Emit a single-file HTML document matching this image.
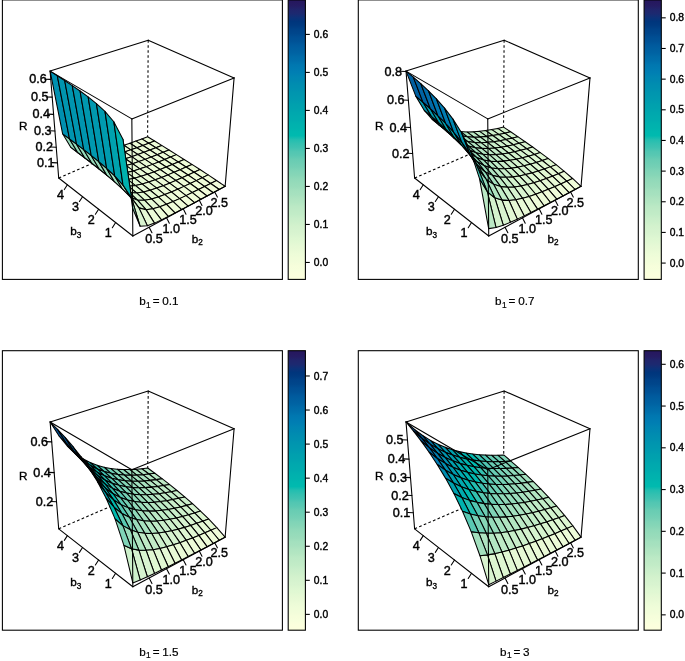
<!DOCTYPE html>
<html><head><meta charset="utf-8"><title>R surfaces</title>
<style>html,body{margin:0;padding:0;background:#fff}svg{display:block}</style></head>
<body><svg width="685" height="661" viewBox="0 0 685 661">
<defs><linearGradient id="cb" x1="0" y1="1" x2="0" y2="0"><stop offset="0.00704" stop-color="#FCFFDD"/><stop offset="0.02113" stop-color="#FBFFDD"/><stop offset="0.03521" stop-color="#F7FFDC"/><stop offset="0.04930" stop-color="#F6FEDB"/><stop offset="0.06338" stop-color="#F2FDDA"/><stop offset="0.07746" stop-color="#F0FDD9"/><stop offset="0.09155" stop-color="#EDFCD8"/><stop offset="0.10563" stop-color="#E9FAD6"/><stop offset="0.11972" stop-color="#E6F9D5"/><stop offset="0.13380" stop-color="#E1F8D3"/><stop offset="0.14789" stop-color="#DEF7D2"/><stop offset="0.16197" stop-color="#D9F4D0"/><stop offset="0.17606" stop-color="#D6F3CF"/><stop offset="0.19014" stop-color="#D3F2CD"/><stop offset="0.20423" stop-color="#CDF0CB"/><stop offset="0.21831" stop-color="#C9EECA"/><stop offset="0.23239" stop-color="#C2ECC7"/><stop offset="0.24648" stop-color="#BFEAC6"/><stop offset="0.26056" stop-color="#BBE9C5"/><stop offset="0.27465" stop-color="#B3E6C2"/><stop offset="0.28873" stop-color="#AFE4C1"/><stop offset="0.30282" stop-color="#A7E1BF"/><stop offset="0.31690" stop-color="#A3E0BE"/><stop offset="0.33099" stop-color="#9ADCBB"/><stop offset="0.34507" stop-color="#95DBBA"/><stop offset="0.35915" stop-color="#90D9B9"/><stop offset="0.37324" stop-color="#86D6B7"/><stop offset="0.38732" stop-color="#80D4B7"/><stop offset="0.40141" stop-color="#75D0B5"/><stop offset="0.41549" stop-color="#6ECEB4"/><stop offset="0.42958" stop-color="#68CCB3"/><stop offset="0.44366" stop-color="#59C8B2"/><stop offset="0.45775" stop-color="#51C6B2"/><stop offset="0.47183" stop-color="#3FC2B1"/><stop offset="0.48592" stop-color="#33C0B0"/><stop offset="0.50000" stop-color="#23BEB0"/><stop offset="0.51408" stop-color="#00BAAF"/><stop offset="0.52817" stop-color="#00B8AF"/><stop offset="0.54225" stop-color="#00B3AE"/><stop offset="0.55634" stop-color="#00B1AE"/><stop offset="0.57042" stop-color="#00ACAE"/><stop offset="0.58451" stop-color="#00AAAE"/><stop offset="0.59859" stop-color="#00A7AE"/><stop offset="0.61268" stop-color="#00A2AE"/><stop offset="0.62676" stop-color="#00A0AE"/><stop offset="0.64085" stop-color="#009BAF"/><stop offset="0.65493" stop-color="#0098AF"/><stop offset="0.66901" stop-color="#0095AF"/><stop offset="0.68310" stop-color="#0090B0"/><stop offset="0.69718" stop-color="#008DB0"/><stop offset="0.71127" stop-color="#0088B1"/><stop offset="0.72535" stop-color="#0085B2"/><stop offset="0.73944" stop-color="#007FB3"/><stop offset="0.75352" stop-color="#007BB2"/><stop offset="0.76761" stop-color="#0077B0"/><stop offset="0.78169" stop-color="#006FAB"/><stop offset="0.79577" stop-color="#006BA8"/><stop offset="0.80986" stop-color="#0063A3"/><stop offset="0.82394" stop-color="#005FA0"/><stop offset="0.83803" stop-color="#005A9D"/><stop offset="0.85211" stop-color="#005296"/><stop offset="0.86620" stop-color="#004E93"/><stop offset="0.88028" stop-color="#00468B"/><stop offset="0.89437" stop-color="#004288"/><stop offset="0.90845" stop-color="#003A80"/><stop offset="0.92254" stop-color="#00357C"/><stop offset="0.93662" stop-color="#0D3178"/><stop offset="0.95070" stop-color="#1C2970"/><stop offset="0.96479" stop-color="#20256C"/><stop offset="0.97887" stop-color="#251C63"/><stop offset="0.99296" stop-color="#26185F"/></linearGradient></defs>
<rect width="685" height="661" fill="#fff"/>
<g transform="translate(0,0)">
<g stroke="#000" stroke-width="1.08" stroke-dasharray="2.7,2.3" fill="none">
<line x1="58.70" y1="178.03" x2="147.59" y2="139.55" />
<line x1="225.14" y1="186.35" x2="147.59" y2="139.55" />
<line x1="148.20" y1="40.15" x2="147.59" y2="139.55" />
</g>
<g stroke="#000" stroke-width="1.05" stroke-linejoin="round">
<polygon points="148.77,143.27 154.58,141.01 147.61,136.71 141.81,138.90" fill="#EDFCD8"/>
<polygon points="142.86,145.50 148.77,143.27 141.81,138.90 135.92,141.08" fill="#EDFCD8"/>
<polygon points="155.88,147.75 161.72,145.42 154.58,141.01 148.77,143.27" fill="#EDFCD8"/>
<polygon points="136.87,147.70 142.86,145.50 135.92,141.08 129.95,143.21" fill="#EDFCD8"/>
<polygon points="149.96,150.05 155.88,147.75 148.77,143.27 142.86,145.50" fill="#EDFCD8"/>
<polygon points="130.80,149.85 136.87,147.70 129.95,143.21 123.89,145.29" fill="#E9FAD6"/>
<polygon points="163.17,152.35 169.01,149.96 161.72,145.42 155.88,147.75" fill="#EDFCD8"/>
<polygon points="143.96,152.32 149.96,150.05 142.86,145.50 136.87,147.70" fill="#EDFCD8"/>
<polygon points="124.62,151.92 130.80,149.85 123.89,145.29 117.74,147.29" fill="#E9FAD6"/>
<polygon points="157.23,154.73 163.17,152.35 155.88,147.75 149.96,150.05" fill="#EDFCD8"/>
<polygon points="137.86,154.54 143.96,152.32 136.87,147.70 130.80,149.85" fill="#E9FAD6"/>
<polygon points="170.62,157.10 176.48,154.63 169.01,149.96 163.17,152.35" fill="#EDFCD8"/>
<polygon points="118.35,153.86 124.62,151.92 117.74,147.29 111.48,149.17" fill="#E9FAD6"/>
<polygon points="151.21,157.08 157.23,154.73 149.96,150.05 143.96,152.32" fill="#EDFCD8"/>
<polygon points="131.67,156.68 137.86,154.54 130.80,149.85 124.62,151.92" fill="#E9FAD6"/>
<polygon points="164.67,159.55 170.62,157.10 163.17,152.35 157.23,154.73" fill="#EDFCD8"/>
<polygon points="111.97,155.62 118.35,153.86 111.48,149.17 105.12,150.85" fill="#E6F9D5"/>
<polygon points="145.10,159.38 151.21,157.08 143.96,152.32 137.86,154.54" fill="#EDFCD8"/>
<polygon points="178.25,161.99 184.13,159.44 176.48,154.63 170.62,157.10" fill="#F0FDD9"/>
<polygon points="125.38,158.70 131.67,156.68 124.62,151.92 118.35,153.86" fill="#E9FAD6"/>
<polygon points="158.64,161.98 164.67,159.55 157.23,154.73 151.21,157.08" fill="#EDFCD8"/>
<polygon points="138.89,161.60 145.10,159.38 137.86,154.54 131.67,156.68" fill="#E9FAD6"/>
<polygon points="105.47,157.08 111.97,155.62 105.12,150.85 98.64,152.24" fill="#E1F8D3"/>
<polygon points="172.29,164.54 178.25,161.99 170.62,157.10 164.67,159.55" fill="#EDFCD8"/>
<polygon points="152.51,164.37 158.64,161.98 151.21,157.08 145.10,159.38" fill="#EDFCD8"/>
<polygon points="118.98,160.54 125.38,158.70 118.35,153.86 111.97,155.62" fill="#E6F9D5"/>
<polygon points="186.06,167.05 191.95,164.41 184.13,159.44 178.25,161.99" fill="#F0FDD9"/>
<polygon points="132.58,163.70 138.89,161.60 131.67,156.68 125.38,158.70" fill="#E9FAD6"/>
<polygon points="166.24,167.05 172.29,164.54 164.67,159.55 158.64,161.98" fill="#EDFCD8"/>
<polygon points="98.84,158.08 105.47,157.08 98.64,152.24 92.03,153.17" fill="#DEF7D2"/>
<polygon points="146.28,166.68 152.51,164.37 145.10,159.38 138.89,161.60" fill="#E9FAD6"/>
<polygon points="112.47,162.08 118.98,160.54 111.97,155.62 105.47,157.08" fill="#E1F8D3"/>
<polygon points="180.09,169.69 186.06,167.05 178.25,161.99 172.29,164.54" fill="#F0FDD9"/>
<polygon points="160.10,169.53 166.24,167.05 158.64,161.98 152.51,164.37" fill="#EDFCD8"/>
<polygon points="126.17,165.62 132.58,163.70 125.38,158.70 118.98,160.54" fill="#E6F9D5"/>
<polygon points="194.06,172.30 199.96,169.55 191.95,164.41 186.06,167.05" fill="#F0FDD9"/>
<polygon points="92.05,158.28 98.84,158.08 92.03,153.17 85.26,153.30" fill="#D9F4D0"/>
<polygon points="139.96,168.87 146.28,166.68 138.89,161.60 132.58,163.70" fill="#E9FAD6"/>
<polygon points="174.03,172.31 180.09,169.69 172.29,164.54 166.24,167.05" fill="#EDFCD8"/>
<polygon points="105.82,163.16 112.47,162.08 105.47,157.08 98.84,158.08" fill="#DEF7D2"/>
<polygon points="153.86,171.94 160.10,169.53 152.51,164.37 146.28,166.68" fill="#EDFCD8"/>
<polygon points="119.64,167.25 126.17,165.62 118.98,160.54 112.47,162.08" fill="#E1F8D3"/>
<polygon points="188.08,175.04 194.06,172.30 186.06,167.05 180.09,169.69" fill="#F0FDD9"/>
<polygon points="167.87,174.89 174.03,172.31 166.24,167.05 160.10,169.53" fill="#EDFCD8"/>
<polygon points="133.53,170.88 139.96,168.87 132.58,163.70 126.17,165.62" fill="#E6F9D5"/>
<polygon points="202.25,177.76 208.16,174.90 199.96,169.55 194.06,172.30" fill="#F0FDD9"/>
<polygon points="85.05,156.99 92.05,158.28 85.26,153.30 78.26,151.95" fill="#D3F2CD"/>
<polygon points="99.02,163.43 105.82,163.16 98.84,158.08 92.05,158.28" fill="#D9F4D0"/>
<polygon points="147.52,174.24 153.86,171.94 146.28,166.68 139.96,168.87" fill="#E9FAD6"/>
<polygon points="182.00,177.78 188.08,175.04 180.09,169.69 174.03,172.31" fill="#F0FDD9"/>
<polygon points="112.98,168.41 119.64,167.25 112.47,162.08 105.82,163.16" fill="#DEF7D2"/>
<polygon points="161.61,177.41 167.87,174.89 160.10,169.53 153.86,171.94" fill="#EDFCD8"/>
<polygon points="196.25,180.63 202.25,177.76 194.06,172.30 188.08,175.04" fill="#F0FDD9"/>
<polygon points="126.98,172.61 133.53,170.88 126.17,165.62 119.64,167.25" fill="#E6F9D5"/>
<polygon points="175.83,180.48 182.00,177.78 174.03,172.31 167.87,174.89" fill="#EDFCD8"/>
<polygon points="141.07,176.36 147.52,174.24 139.96,168.87 133.53,170.88" fill="#E9FAD6"/>
<polygon points="210.63,183.48 216.55,180.48 208.16,174.90 202.25,177.76" fill="#F2FDDA"/>
<polygon points="92.01,162.21 99.02,163.43 92.05,158.28 85.05,156.99" fill="#D3F2CD"/>
<polygon points="77.68,152.48 85.05,156.99 78.26,151.95 70.88,147.40" fill="#BFEAC6"/>
<polygon points="106.16,168.78 112.98,168.41 105.82,163.16 99.02,163.43" fill="#D9F4D0"/>
<polygon points="155.26,179.83 161.61,177.41 153.86,171.94 147.52,174.24" fill="#E9FAD6"/>
<polygon points="190.16,183.50 196.25,180.63 188.08,175.04 182.00,177.78" fill="#F0FDD9"/>
<polygon points="120.31,173.88 126.98,172.61 119.64,167.25 112.98,168.41" fill="#E1F8D3"/>
<polygon points="169.56,183.14 175.83,180.48 167.87,174.89 161.61,177.41" fill="#EDFCD8"/>
<polygon points="204.62,186.50 210.63,183.48 202.25,177.76 196.25,180.63" fill="#F0FDD9"/>
<polygon points="134.51,178.20 141.07,176.36 133.53,170.88 126.98,172.61" fill="#E6F9D5"/>
<polygon points="183.98,186.36 190.16,183.50 182.00,177.78 175.83,180.48" fill="#F0FDD9"/>
<polygon points="148.80,182.08 155.26,179.83 147.52,174.24 141.07,176.36" fill="#E9FAD6"/>
<polygon points="219.21,189.53 225.14,186.35 216.55,180.48 210.63,183.48" fill="#F2FDDA"/>
<polygon points="99.15,167.64 106.16,168.78 99.02,163.43 92.01,162.21" fill="#D3F2CD"/>
<polygon points="84.66,157.75 92.01,162.21 85.05,156.99 77.68,152.48" fill="#BFEAC6"/>
<polygon points="113.49,174.35 120.31,173.88 112.98,168.41 106.16,168.78" fill="#D9F4D0"/>
<polygon points="163.19,185.70 169.56,183.14 161.61,177.41 155.26,179.83" fill="#EDFCD8"/>
<polygon points="198.52,189.54 204.62,186.50 196.25,180.63 190.16,183.50" fill="#F0FDD9"/>
<polygon points="127.83,179.59 134.51,178.20 126.98,172.61 120.31,173.88" fill="#E1F8D3"/>
<polygon points="177.70,189.17 183.98,186.36 175.83,180.48 169.56,183.14" fill="#EDFCD8"/>
<polygon points="213.18,192.75 219.21,189.53 210.63,183.48 204.62,186.50" fill="#F2FDDA"/>
<polygon points="142.23,184.06 148.80,182.08 141.07,176.36 134.51,178.20" fill="#E6F9D5"/>
<polygon points="69.50,138.89 77.68,152.48 70.88,147.40 62.64,133.84" fill="#95DBBA"/>
<polygon points="192.32,192.59 198.52,189.54 190.16,183.50 183.98,186.36" fill="#F0FDD9"/>
<polygon points="156.72,188.11 163.19,185.70 155.26,179.83 148.80,182.08" fill="#E9FAD6"/>
<polygon points="106.48,173.31 113.49,174.35 106.16,168.78 99.15,167.64" fill="#D3F2CD"/>
<polygon points="91.82,163.25 99.15,167.64 92.01,162.21 84.66,157.75" fill="#BFEAC6"/>
<polygon points="121.00,180.18 127.83,179.59 120.31,173.88 113.49,174.35" fill="#DEF7D2"/>
<polygon points="171.32,191.92 177.70,189.17 169.56,183.14 163.19,185.70" fill="#EDFCD8"/>
<polygon points="207.06,196.02 213.18,192.75 204.62,186.50 198.52,189.54" fill="#F2FDDA"/>
<polygon points="135.54,185.60 142.23,184.06 134.51,178.20 127.83,179.59" fill="#E1F8D3"/>
<polygon points="186.03,195.63 192.32,192.59 183.98,186.36 177.70,189.17" fill="#F0FDD9"/>
<polygon points="150.14,190.26 156.72,188.11 148.80,182.08 142.23,184.06" fill="#E9FAD6"/>
<polygon points="76.54,144.16 84.66,157.75 77.68,152.48 69.50,138.89" fill="#95DBBA"/>
<polygon points="200.85,199.33 207.06,196.02 198.52,189.54 192.32,192.59" fill="#F2FDDA"/>
<polygon points="164.84,194.54 171.32,191.92 163.19,185.70 156.72,188.11" fill="#EDFCD8"/>
<polygon points="113.99,179.28 121.00,180.18 113.49,174.35 106.48,173.31" fill="#D6F3CF"/>
<polygon points="99.17,169.01 106.48,173.31 99.15,167.64 91.82,163.25" fill="#C2ECC7"/>
<polygon points="128.71,186.35 135.54,185.60 127.83,179.59 121.00,180.18" fill="#DEF7D2"/>
<polygon points="179.63,198.63 186.03,195.63 177.70,189.17 171.32,191.92" fill="#F0FDD9"/>
<polygon points="143.44,192.00 150.14,190.26 142.23,184.06 135.54,185.60" fill="#E6F9D5"/>
<polygon points="194.54,202.69 200.85,199.33 192.32,192.59 186.03,195.63" fill="#F2FDDA"/>
<polygon points="158.24,196.94 164.84,194.54 156.72,188.11 150.14,190.26" fill="#E9FAD6"/>
<polygon points="83.77,149.66 91.82,163.25 84.66,157.75 76.54,144.16" fill="#95DBBA"/>
<polygon points="173.14,201.55 179.63,198.63 171.32,191.92 164.84,194.54" fill="#EDFCD8"/>
<polygon points="121.71,185.63 128.71,186.35 121.00,180.18 113.99,179.28" fill="#D6F3CF"/>
<polygon points="106.71,175.11 113.99,179.28 106.48,173.31 99.17,169.01" fill="#C2ECC7"/>
<polygon points="188.12,206.09 194.54,202.69 186.03,195.63 179.63,198.63" fill="#F2FDDA"/>
<polygon points="136.61,192.98 143.44,192.00 135.54,185.60 128.71,186.35" fill="#E1F8D3"/>
<polygon points="151.54,198.96 158.24,196.94 150.14,190.26 143.44,192.00" fill="#E6F9D5"/>
<polygon points="166.53,204.33 173.14,201.55 164.84,194.54 158.24,196.94" fill="#EDFCD8"/>
<polygon points="91.19,155.46 99.17,169.01 91.82,163.25 83.77,149.66" fill="#95DBBA"/>
<polygon points="181.61,209.52 188.12,206.09 179.63,198.63 173.14,201.55" fill="#F0FDD9"/>
<polygon points="129.62,192.52 136.61,192.98 128.71,186.35 121.71,185.63" fill="#D9F4D0"/>
<polygon points="144.71,200.30 151.54,198.96 143.44,192.00 136.61,192.98" fill="#E1F8D3"/>
<polygon points="114.45,181.65 121.71,185.63 113.99,179.28 106.71,175.11" fill="#C9EECA"/>
<polygon points="57.29,75.70 69.50,138.89 62.64,133.84 50.12,71.11" fill="#0090B0"/>
<polygon points="159.82,206.83 166.53,204.33 158.24,196.94 151.54,198.96" fill="#E9FAD6"/>
<polygon points="174.98,212.98 181.61,209.52 173.14,201.55 166.53,204.33" fill="#F0FDD9"/>
<polygon points="98.82,161.64 106.71,175.11 99.17,169.01 91.19,155.46" fill="#9ADCBB"/>
<polygon points="137.73,200.28 144.71,200.30 136.61,192.98 129.62,192.52" fill="#D9F4D0"/>
<polygon points="152.99,208.79 159.82,206.83 151.54,198.96 144.71,200.30" fill="#E6F9D5"/>
<polygon points="122.40,188.85 129.62,192.52 121.71,185.63 114.45,181.65" fill="#C9EECA"/>
<polygon points="168.25,216.44 174.98,212.98 166.53,204.33 159.82,206.83" fill="#F0FDD9"/>
<polygon points="64.67,80.52 76.54,144.16 69.50,138.89 57.29,75.70" fill="#0095AF"/>
<polygon points="106.66,168.36 114.45,181.65 106.71,175.11 98.82,161.64" fill="#9ADCBB"/>
<polygon points="161.41,219.86 168.25,216.44 159.82,206.83 152.99,208.79" fill="#EDFCD8"/>
<polygon points="146.03,209.65 152.99,208.79 144.71,200.30 137.73,200.28" fill="#E1F8D3"/>
<polygon points="130.56,197.18 137.73,200.28 129.62,192.52 122.40,188.85" fill="#CDF0CB"/>
<polygon points="72.26,85.60 83.77,149.66 76.54,144.16 64.67,80.52" fill="#0095AF"/>
<polygon points="154.45,223.11 161.41,219.86 152.99,208.79 146.03,209.65" fill="#EDFCD8"/>
<polygon points="114.72,175.93 122.40,188.85 114.45,181.65 106.66,168.36" fill="#A3E0BE"/>
<polygon points="138.91,207.87 146.03,209.65 137.73,200.28 130.56,197.18" fill="#D6F3CF"/>
<polygon points="80.08,91.04 91.19,155.46 83.77,149.66 72.26,85.60" fill="#0095AF"/>
<polygon points="147.37,225.80 154.45,223.11 146.03,209.65 138.91,207.87" fill="#E6F9D5"/>
<polygon points="123.00,185.05 130.56,197.18 122.40,188.85 114.72,175.93" fill="#AFE4C1"/>
<polygon points="131.50,197.93 138.91,207.87 130.56,197.18 123.00,185.05" fill="#BBE9C5"/>
<polygon points="88.13,96.95 98.82,161.64 91.19,155.46 80.08,91.04" fill="#0098AF"/>
<polygon points="140.15,226.32 147.37,225.80 138.91,207.87 131.50,197.93" fill="#D9F4D0"/>
<polygon points="96.42,103.57 106.66,168.36 98.82,161.64 88.13,96.95" fill="#0098AF"/>
<polygon points="104.98,111.40 114.72,175.93 106.66,168.36 96.42,103.57" fill="#009BAF"/>
<polygon points="132.60,208.29 140.15,226.32 131.50,197.93 122.95,139.29" fill="#90D9B9"/>
<polygon points="113.81,121.72 123.00,185.05 114.72,175.93 104.98,111.40" fill="#00A2AE"/>
<polygon points="122.95,139.29 131.50,197.93 123.00,185.05 113.81,121.72" fill="#00B1AE"/>
</g>
<g stroke="#000" stroke-width="1.08" fill="none" stroke-linecap="round">
<line x1="132.83" y1="235.95" x2="225.14" y2="186.35" />
<line x1="132.83" y1="235.95" x2="58.70" y2="178.03" />
<line x1="132.83" y1="235.95" x2="131.84" y2="118.90" />
<line x1="225.14" y1="186.35" x2="234.09" y2="77.89" />
<line x1="58.70" y1="178.03" x2="50.12" y2="71.11" />
<line x1="131.84" y1="118.90" x2="234.09" y2="77.89" />
<line x1="131.84" y1="118.90" x2="50.12" y2="71.11" />
<line x1="148.20" y1="40.15" x2="234.09" y2="77.89" />
<line x1="148.20" y1="40.15" x2="50.12" y2="71.11" />
<line x1="149.13" y1="227.19" x2="151.95" y2="232.77" />
<line x1="166.54" y1="217.84" x2="169.32" y2="223.29" />
<line x1="183.24" y1="208.87" x2="185.98" y2="214.20" />
<line x1="199.28" y1="200.25" x2="201.99" y2="205.47" />
<line x1="214.70" y1="191.97" x2="217.37" y2="197.07" />
<line x1="115.65" y1="222.53" x2="112.33" y2="227.71" />
<line x1="98.61" y1="209.22" x2="95.38" y2="214.24" />
<line x1="82.55" y1="196.67" x2="79.41" y2="201.54" />
<line x1="67.39" y1="184.83" x2="64.33" y2="189.56" />
<line x1="57.48" y1="162.89" x2="51.97" y2="162.62" />
<line x1="56.22" y1="147.19" x2="50.63" y2="146.94" />
<line x1="54.92" y1="131.02" x2="49.25" y2="130.77" />
<line x1="53.59" y1="114.35" x2="47.82" y2="114.11" />
<line x1="52.21" y1="97.15" x2="46.35" y2="96.92" />
<line x1="50.78" y1="79.40" x2="44.84" y2="79.18" />
</g>
<g font-family="Liberation Sans, Arial, Helvetica, sans-serif" font-size="12.6" fill="#000" text-anchor="middle" stroke="#000" stroke-width="0.42">
<text x="153.98" y="242.87">0.5</text>
<text x="171.31" y="233.27">1.0</text>
<text x="187.93" y="224.05">1.5</text>
<text x="203.90" y="215.21">2.0</text>
<text x="219.25" y="206.70">2.5</text>
<text x="108.20" y="237.40">1</text>
<text x="91.34" y="223.77">2</text>
<text x="75.46" y="210.92">3</text>
<text x="60.46" y="198.80">4</text>
<text x="45.66" y="166.87">0.1</text>
<text x="44.24" y="151.19">0.2</text>
<text x="42.78" y="135.03">0.3</text>
<text x="41.26" y="118.37">0.4</text>
<text x="39.71" y="101.19">0.5</text>
<text x="38.10" y="83.46">0.6</text>
</g>
<g font-family="Liberation Sans, Arial, Helvetica, sans-serif" font-size="11.7" fill="#000" text-anchor="middle" stroke="#000" stroke-width="0.35">
<text x="197.21" y="242.77">b<tspan font-size="8.2" dy="2.3">2</tspan></text>
<text x="75.74" y="235.42">b<tspan font-size="8.2" dy="2.3">3</tspan></text>
<text x="23.31" y="129.66">R</text>
</g>
<rect x="2.4" y="-0.1" width="280" height="279.5" fill="none" stroke="#000" stroke-width="1.08"/>
<rect x="288.2" y="-0.1" width="17.20" height="279.5" fill="url(#cb)"/>
<rect x="288.2" y="-0.1" width="17.20" height="279.5" fill="none" stroke="#000" stroke-width="1.08"/>
<g stroke="#000" stroke-width="1.08">
<line x1="305.4" y1="262.45" x2="309.79999999999995" y2="262.45"/>
<line x1="305.4" y1="224.44" x2="309.79999999999995" y2="224.44"/>
<line x1="305.4" y1="186.43" x2="309.79999999999995" y2="186.43"/>
<line x1="305.4" y1="148.43" x2="309.79999999999995" y2="148.43"/>
<line x1="305.4" y1="110.42" x2="309.79999999999995" y2="110.42"/>
<line x1="305.4" y1="72.41" x2="309.79999999999995" y2="72.41"/>
<line x1="305.4" y1="34.40" x2="309.79999999999995" y2="34.40"/>
</g>
<g font-family="Liberation Sans, Arial, Helvetica, sans-serif" font-size="10.3" fill="#000" stroke="#000" stroke-width="0.4">
<text x="313.79999999999995" y="266.04">0.0</text>
<text x="313.79999999999995" y="228.03">0.1</text>
<text x="313.79999999999995" y="190.02">0.2</text>
<text x="313.79999999999995" y="152.01">0.3</text>
<text x="313.79999999999995" y="114.00">0.4</text>
<text x="313.79999999999995" y="76.00">0.5</text>
<text x="313.79999999999995" y="37.99">0.6</text>
</g>
<g font-family="Liberation Sans, Arial, Helvetica, sans-serif" font-size="11.7" fill="#000" stroke="#000" stroke-width="0.2">
<text x="139.22" y="305.4">b</text>
<text x="146.12" y="307.5" font-size="8.4">1</text>
<text x="152.72" y="305.4">=</text>
<text x="162.32" y="305.4">0.1</text>
</g>
</g>
<g transform="translate(355.9,0)">
<g stroke="#000" stroke-width="1.08" stroke-dasharray="2.7,2.3" fill="none">
<line x1="58.70" y1="178.03" x2="147.59" y2="139.55" />
<line x1="225.14" y1="186.35" x2="147.59" y2="139.55" />
<line x1="148.20" y1="40.15" x2="147.59" y2="139.55" />
</g>
<g stroke="#000" stroke-width="1.05" stroke-linejoin="round">
<polygon points="148.84,133.17 154.70,131.76 147.67,127.07 141.82,128.39" fill="#D6F3CF"/>
<polygon points="142.88,134.44 148.84,133.17 141.82,128.39 135.87,129.57" fill="#D3F2CD"/>
<polygon points="156.02,138.14 161.89,136.64 154.70,131.76 148.84,133.17" fill="#D6F3CF"/>
<polygon points="136.83,135.53 142.88,134.44 135.87,129.57 129.82,130.57" fill="#CDF0CB"/>
<polygon points="150.05,139.51 156.02,138.14 148.84,133.17 142.88,134.44" fill="#D3F2CD"/>
<polygon points="163.36,143.33 169.23,141.72 161.89,136.64 156.02,138.14" fill="#D6F3CF"/>
<polygon points="130.66,136.39 136.83,135.53 129.82,130.57 123.67,131.34" fill="#C9EECA"/>
<polygon points="143.99,140.70 150.05,139.51 142.88,134.44 136.83,135.53" fill="#CDF0CB"/>
<polygon points="157.39,144.80 163.36,143.33 156.02,138.14 150.05,139.51" fill="#D6F3CF"/>
<polygon points="170.86,148.75 176.74,147.02 169.23,141.72 163.36,143.33" fill="#D9F4D0"/>
<polygon points="124.39,136.97 130.66,136.39 123.67,131.34 117.40,131.82" fill="#C2ECC7"/>
<polygon points="137.82,141.67 143.99,140.70 136.83,135.53 130.66,136.39" fill="#C9EECA"/>
<polygon points="151.32,146.11 157.39,144.80 150.05,139.51 143.99,140.70" fill="#D3F2CD"/>
<polygon points="164.88,150.35 170.86,148.75 163.36,143.33 157.39,144.80" fill="#D6F3CF"/>
<polygon points="117.99,137.15 124.39,136.97 117.40,131.82 111.00,131.90" fill="#BBE9C5"/>
<polygon points="178.52,154.45 184.41,152.59 176.74,147.02 170.86,148.75" fill="#DEF7D2"/>
<polygon points="131.54,142.35 137.82,141.67 130.66,136.39 124.39,136.97" fill="#C2ECC7"/>
<polygon points="145.14,147.20 151.32,146.11 143.99,140.70 137.82,141.67" fill="#CDF0CB"/>
<polygon points="158.81,151.79 164.88,150.35 157.39,144.80 151.32,146.11" fill="#D3F2CD"/>
<polygon points="172.54,156.19 178.52,154.45 170.86,148.75 164.88,150.35" fill="#D9F4D0"/>
<polygon points="111.45,136.83 117.99,137.15 111.00,131.90 104.46,131.48" fill="#AFE4C1"/>
<polygon points="125.14,142.66 131.54,142.35 124.39,136.97 117.99,137.15" fill="#BFEAC6"/>
<polygon points="186.35,160.47 192.24,158.45 184.41,152.59 178.52,154.45" fill="#DEF7D2"/>
<polygon points="138.86,148.01 145.14,147.20 137.82,141.67 131.54,142.35" fill="#C9EECA"/>
<polygon points="152.63,153.02 158.81,151.79 151.32,146.11 145.14,147.20" fill="#D3F2CD"/>
<polygon points="166.46,157.79 172.54,156.19 164.88,150.35 158.81,151.79" fill="#D6F3CF"/>
<polygon points="104.75,135.82 111.45,136.83 104.46,131.48 97.76,130.36" fill="#A3E0BE"/>
<polygon points="180.37,162.39 186.35,160.47 178.52,154.45 172.54,156.19" fill="#DEF7D2"/>
<polygon points="118.60,142.46 125.14,142.66 117.99,137.15 111.45,136.83" fill="#B3E6C2"/>
<polygon points="132.46,148.45 138.86,148.01 131.54,142.35 125.14,142.66" fill="#BFEAC6"/>
<polygon points="194.34,166.87 200.24,164.66 192.24,158.45 186.35,160.47" fill="#E1F8D3"/>
<polygon points="146.35,153.98 152.63,153.02 145.14,147.20 138.86,148.01" fill="#C9EECA"/>
<polygon points="160.29,159.19 166.46,157.79 158.81,151.79 152.63,153.02" fill="#D3F2CD"/>
<polygon points="174.28,164.17 180.37,162.39 172.54,156.19 166.46,157.79" fill="#D9F4D0"/>
<polygon points="188.35,169.00 194.34,166.87 186.35,160.47 180.37,162.39" fill="#E1F8D3"/>
<polygon points="97.87,133.84 104.75,135.82 97.76,130.36 90.87,128.27" fill="#95DBBA"/>
<polygon points="111.91,141.57 118.60,142.46 111.45,136.83 104.75,135.82" fill="#A7E1BF"/>
<polygon points="125.92,148.39 132.46,148.45 125.14,142.66 118.60,142.46" fill="#BBE9C5"/>
<polygon points="139.94,154.59 146.35,153.98 138.86,148.01 132.46,148.45" fill="#C2ECC7"/>
<polygon points="202.49,173.75 208.39,171.30 200.24,164.66 194.34,166.87" fill="#E6F9D5"/>
<polygon points="154.00,160.33 160.29,159.19 152.63,153.02 146.35,153.98" fill="#CDF0CB"/>
<polygon points="168.10,165.78 174.28,164.17 166.46,157.79 160.29,159.19" fill="#D6F3CF"/>
<polygon points="182.27,171.02 188.35,169.00 180.37,162.39 174.28,164.17" fill="#DEF7D2"/>
<polygon points="196.50,176.14 202.49,173.75 194.34,166.87 188.35,169.00" fill="#E6F9D5"/>
<polygon points="119.23,147.66 125.92,148.39 118.60,142.46 111.91,141.57" fill="#AFE4C1"/>
<polygon points="105.03,139.72 111.91,141.57 104.75,135.82 97.87,133.84" fill="#95DBBA"/>
<polygon points="133.41,154.70 139.94,154.59 132.46,148.45 125.92,148.39" fill="#BBE9C5"/>
<polygon points="90.75,130.49 97.87,133.84 90.87,128.27 83.74,124.81" fill="#75D0B5"/>
<polygon points="210.79,181.23 216.70,178.48 208.39,171.30 202.49,173.75" fill="#EDFCD8"/>
<polygon points="147.60,161.13 154.00,160.33 146.35,153.98 139.94,154.59" fill="#C9EECA"/>
<polygon points="161.82,167.14 168.10,165.78 160.29,159.19 154.00,160.33" fill="#D3F2CD"/>
<polygon points="176.09,172.88 182.27,171.02 174.28,164.17 168.10,165.78" fill="#D9F4D0"/>
<polygon points="190.41,178.45 196.50,176.14 188.35,169.00 182.27,171.02" fill="#E1F8D3"/>
<polygon points="204.78,183.96 210.79,181.23 202.49,173.75 196.50,176.14" fill="#E9FAD6"/>
<polygon points="126.73,154.16 133.41,154.70 125.92,148.39 119.23,147.66" fill="#B3E6C2"/>
<polygon points="112.37,145.98 119.23,147.66 111.91,141.57 105.03,139.72" fill="#9ADCBB"/>
<polygon points="219.21,189.50 225.14,186.35 216.70,178.48 210.79,181.23" fill="#F0FDD9"/>
<polygon points="141.07,161.47 147.60,161.13 139.94,154.59 133.41,154.70" fill="#BFEAC6"/>
<polygon points="97.93,136.51 105.03,139.72 97.87,133.84 90.75,130.49" fill="#80D4B7"/>
<polygon points="155.42,168.19 161.82,167.14 154.00,160.33 147.60,161.13" fill="#CDF0CB"/>
<polygon points="169.80,174.53 176.09,172.88 168.10,165.78 161.82,167.14" fill="#D6F3CF"/>
<polygon points="83.34,125.06 90.75,130.49 83.74,124.81 76.31,119.28" fill="#51C6B2"/>
<polygon points="184.22,180.64 190.41,178.45 182.27,171.02 176.09,172.88" fill="#E1F8D3"/>
<polygon points="198.68,186.66 204.78,183.96 196.50,176.14 190.41,178.45" fill="#E9FAD6"/>
<polygon points="213.19,192.69 219.21,189.50 210.79,181.23 204.78,183.96" fill="#F0FDD9"/>
<polygon points="134.40,161.16 141.07,161.47 133.41,154.70 126.73,154.16" fill="#BBE9C5"/>
<polygon points="119.88,152.68 126.73,154.16 119.23,147.66 112.37,145.98" fill="#A3E0BE"/>
<polygon points="148.90,168.80 155.42,168.19 147.60,161.13 141.07,161.47" fill="#C9EECA"/>
<polygon points="163.41,175.90 169.80,174.53 161.82,167.14 155.42,168.19" fill="#D3F2CD"/>
<polygon points="105.29,142.93 112.37,145.98 105.03,139.72 97.93,136.51" fill="#86D6B7"/>
<polygon points="177.93,182.67 184.22,180.64 176.09,172.88 169.80,174.53" fill="#DEF7D2"/>
<polygon points="192.49,189.29 198.68,186.66 190.41,178.45 184.22,180.64" fill="#E6F9D5"/>
<polygon points="90.55,131.22 97.93,136.51 90.75,130.49 83.34,125.06" fill="#59C8B2"/>
<polygon points="207.07,195.92 213.19,192.69 204.78,183.96 198.68,186.66" fill="#F0FDD9"/>
<polygon points="75.51,116.37 83.34,125.06 76.31,119.28 68.44,110.48" fill="#00B3AE"/>
<polygon points="142.25,168.80 148.90,168.80 141.07,161.47 134.40,161.16" fill="#BFEAC6"/>
<polygon points="156.89,176.87 163.41,175.90 155.42,168.19 148.90,168.80" fill="#CDF0CB"/>
<polygon points="127.58,159.95 134.40,161.16 126.73,154.16 119.88,152.68" fill="#A7E1BF"/>
<polygon points="171.54,184.47 177.93,182.67 169.80,174.53 163.41,175.90" fill="#D9F4D0"/>
<polygon points="186.20,191.83 192.49,189.29 184.22,180.64 177.93,182.67" fill="#E6F9D5"/>
<polygon points="112.84,149.86 119.88,152.68 112.37,145.98 105.29,142.93" fill="#90D9B9"/>
<polygon points="200.86,199.18 207.07,195.92 198.68,186.66 192.49,189.29" fill="#F0FDD9"/>
<polygon points="97.95,137.83 105.29,142.93 97.93,136.51 90.55,131.22" fill="#68CCB3"/>
<polygon points="165.04,185.94 171.54,184.47 163.41,175.90 156.89,176.87" fill="#D6F3CF"/>
<polygon points="179.80,194.24 186.20,191.83 177.93,182.67 171.54,184.47" fill="#E1F8D3"/>
<polygon points="194.55,202.48 200.86,199.18 192.49,189.29 186.20,191.83" fill="#F0FDD9"/>
<polygon points="82.77,122.67 90.55,131.22 83.34,125.06 75.51,116.37" fill="#00B8AF"/>
<polygon points="150.26,177.29 156.89,176.87 148.90,168.80 142.25,168.80" fill="#C9EECA"/>
<polygon points="135.44,167.94 142.25,168.80 134.40,161.16 127.58,159.95" fill="#B3E6C2"/>
<polygon points="120.56,157.42 127.58,159.95 119.88,152.68 112.84,149.86" fill="#95DBBA"/>
<polygon points="105.53,145.00 112.84,149.86 105.29,142.93 97.95,137.83" fill="#6ECEB4"/>
<polygon points="188.14,205.81 194.55,202.48 186.20,191.83 179.80,194.24" fill="#EDFCD8"/>
<polygon points="173.30,196.45 179.80,194.24 171.54,184.47 165.04,185.94" fill="#DEF7D2"/>
<polygon points="67.03,102.09 75.51,116.37 68.44,110.48 59.88,96.12" fill="#0098AF"/>
<polygon points="158.41,186.95 165.04,185.94 156.89,176.87 150.26,177.29" fill="#D3F2CD"/>
<polygon points="143.48,176.92 150.26,177.29 142.25,168.80 135.44,167.94" fill="#BBE9C5"/>
<polygon points="90.22,129.47 97.95,137.83 90.55,131.22 82.77,122.67" fill="#00BAAF"/>
<polygon points="128.46,165.82 135.44,167.94 127.58,159.95 120.56,157.42" fill="#A3E0BE"/>
<polygon points="181.62,209.16 188.14,205.81 179.80,194.24 173.30,196.45" fill="#EDFCD8"/>
<polygon points="113.30,152.90 120.56,157.42 112.84,149.86 105.53,145.00" fill="#75D0B5"/>
<polygon points="166.68,198.35 173.30,196.45 165.04,185.94 158.41,186.95" fill="#D9F4D0"/>
<polygon points="151.66,187.29 158.41,186.95 150.26,177.29 143.48,176.92" fill="#C9EECA"/>
<polygon points="74.37,108.51 82.77,122.67 75.51,116.37 67.03,102.09" fill="#009BAF"/>
<polygon points="97.87,136.91 105.53,145.00 97.95,137.83 90.22,129.47" fill="#23BEB0"/>
<polygon points="136.53,175.37 143.48,176.92 135.44,167.94 128.46,165.82" fill="#AFE4C1"/>
<polygon points="175.00,212.52 181.62,209.16 173.30,196.45 166.68,198.35" fill="#E9FAD6"/>
<polygon points="121.25,161.77 128.46,165.82 120.56,157.42 113.30,152.90" fill="#86D6B7"/>
<polygon points="159.95,199.80 166.68,198.35 158.41,186.95 151.66,187.29" fill="#D6F3CF"/>
<polygon points="144.76,186.61 151.66,187.29 143.48,176.92 136.53,175.37" fill="#BFEAC6"/>
<polygon points="81.91,115.51 90.22,129.47 82.77,122.67 74.37,108.51" fill="#00A0AE"/>
<polygon points="105.71,145.19 113.30,152.90 105.53,145.00 97.87,136.91" fill="#3FC2B1"/>
<polygon points="168.27,215.86 175.00,212.52 166.68,198.35 159.95,199.80" fill="#E9FAD6"/>
<polygon points="57.40,77.10 67.03,102.09 59.88,96.12 50.12,71.11" fill="#005FA0"/>
<polygon points="129.39,172.02 136.53,175.37 128.46,165.82 121.25,161.77" fill="#95DBBA"/>
<polygon points="153.09,200.53 159.95,199.80 151.66,187.29 144.76,186.61" fill="#CDF0CB"/>
<polygon points="89.66,123.24 97.87,136.91 90.22,129.47 81.91,115.51" fill="#00A2AE"/>
<polygon points="113.75,154.62 121.25,161.77 113.30,152.90 105.71,145.19" fill="#59C8B2"/>
<polygon points="161.42,219.15 168.27,215.86 159.95,199.80 153.09,200.53" fill="#E6F9D5"/>
<polygon points="137.68,184.35 144.76,186.61 136.53,175.37 129.39,172.02" fill="#A7E1BF"/>
<polygon points="64.88,83.61 74.37,108.51 67.03,102.09 57.40,77.10" fill="#0063A3"/>
<polygon points="146.07,200.12 153.09,200.53 144.76,186.61 137.68,184.35" fill="#C2ECC7"/>
<polygon points="121.97,165.73 129.39,172.02 121.25,161.77 113.75,154.62" fill="#6ECEB4"/>
<polygon points="154.46,222.31 161.42,219.15 153.09,200.53 146.07,200.12" fill="#E1F8D3"/>
<polygon points="97.62,131.96 105.71,145.19 97.87,136.91 89.66,123.24" fill="#00AAAE"/>
<polygon points="72.58,90.78 81.91,115.51 74.37,108.51 64.88,83.61" fill="#006BA8"/>
<polygon points="130.37,179.46 137.68,184.35 129.39,172.02 121.97,165.73" fill="#90D9B9"/>
<polygon points="105.79,142.08 113.75,154.62 105.71,145.19 97.62,131.96" fill="#00B1AE"/>
<polygon points="147.37,225.21 154.46,222.31 146.07,200.12 138.88,197.76" fill="#D9F4D0"/>
<polygon points="138.88,197.76 146.07,200.12 137.68,184.35 130.37,179.46" fill="#AFE4C1"/>
<polygon points="80.50,98.83 89.66,123.24 81.91,115.51 72.58,90.78" fill="#0077B0"/>
<polygon points="114.17,154.29 121.97,165.73 113.75,154.62 105.79,142.08" fill="#00BAAF"/>
<polygon points="140.15,227.56 147.37,225.21 138.88,197.76 131.45,191.83" fill="#D3F2CD"/>
<polygon points="122.74,169.92 130.37,179.46 121.97,165.73 114.17,154.29" fill="#59C8B2"/>
<polygon points="88.66,108.08 97.62,131.96 89.66,123.24 80.50,98.83" fill="#007BB2"/>
<polygon points="131.45,191.83 138.88,197.76 130.37,179.46 122.74,169.92" fill="#90D9B9"/>
<polygon points="97.05,119.07 105.79,142.08 97.62,131.96 88.66,108.08" fill="#0088B1"/>
<polygon points="132.77,228.64 140.15,227.56 131.45,191.83 123.61,178.58" fill="#BBE9C5"/>
<polygon points="105.68,132.77 114.17,154.29 105.79,142.08 97.05,119.07" fill="#0095AF"/>
<polygon points="114.55,151.11 122.74,169.92 114.17,154.29 105.68,132.77" fill="#00A7AE"/>
<polygon points="123.61,178.58 131.45,191.83 122.74,169.92 114.55,151.11" fill="#3FC2B1"/>
</g>
<g stroke="#000" stroke-width="1.08" fill="none" stroke-linecap="round">
<line x1="132.83" y1="235.95" x2="225.14" y2="186.35" />
<line x1="132.83" y1="235.95" x2="58.70" y2="178.03" />
<line x1="132.83" y1="235.95" x2="131.84" y2="118.90" />
<line x1="225.14" y1="186.35" x2="234.09" y2="77.89" />
<line x1="58.70" y1="178.03" x2="50.12" y2="71.11" />
<line x1="131.84" y1="118.90" x2="234.09" y2="77.89" />
<line x1="131.84" y1="118.90" x2="50.12" y2="71.11" />
<line x1="148.20" y1="40.15" x2="234.09" y2="77.89" />
<line x1="148.20" y1="40.15" x2="50.12" y2="71.11" />
<line x1="149.13" y1="227.19" x2="151.95" y2="232.77" />
<line x1="166.54" y1="217.84" x2="169.32" y2="223.29" />
<line x1="183.24" y1="208.87" x2="185.98" y2="214.20" />
<line x1="199.28" y1="200.25" x2="201.99" y2="205.47" />
<line x1="214.70" y1="191.97" x2="217.37" y2="197.07" />
<line x1="115.65" y1="222.53" x2="112.33" y2="227.71" />
<line x1="98.61" y1="209.22" x2="95.38" y2="214.24" />
<line x1="82.55" y1="196.67" x2="79.41" y2="201.54" />
<line x1="67.39" y1="184.83" x2="64.33" y2="189.56" />
<line x1="56.73" y1="153.58" x2="51.17" y2="153.32" />
<line x1="54.65" y1="127.57" x2="48.95" y2="127.32" />
<line x1="52.46" y1="100.24" x2="46.62" y2="100.00" />
<line x1="50.15" y1="71.48" x2="44.16" y2="71.26" />
</g>
<g font-family="Liberation Sans, Arial, Helvetica, sans-serif" font-size="12.6" fill="#000" text-anchor="middle" stroke="#000" stroke-width="0.42">
<text x="153.98" y="242.87">0.5</text>
<text x="171.31" y="233.27">1.0</text>
<text x="187.93" y="224.05">1.5</text>
<text x="203.90" y="215.21">2.0</text>
<text x="219.25" y="206.70">2.5</text>
<text x="108.20" y="237.40">1</text>
<text x="91.34" y="223.77">2</text>
<text x="75.46" y="210.92">3</text>
<text x="60.46" y="198.80">4</text>
<text x="44.82" y="157.57">0.2</text>
<text x="42.46" y="131.58">0.4</text>
<text x="39.99" y="104.27">0.6</text>
<text x="37.38" y="75.55">0.8</text>
</g>
<g font-family="Liberation Sans, Arial, Helvetica, sans-serif" font-size="11.7" fill="#000" text-anchor="middle" stroke="#000" stroke-width="0.35">
<text x="197.21" y="242.77">b<tspan font-size="8.2" dy="2.3">2</tspan></text>
<text x="75.74" y="235.42">b<tspan font-size="8.2" dy="2.3">3</tspan></text>
<text x="23.31" y="129.66">R</text>
</g>
<rect x="2.4" y="-0.1" width="280" height="279.5" fill="none" stroke="#000" stroke-width="1.08"/>
<rect x="288.2" y="-0.1" width="17.20" height="279.5" fill="url(#cb)"/>
<rect x="288.2" y="-0.1" width="17.20" height="279.5" fill="none" stroke="#000" stroke-width="1.08"/>
<g stroke="#000" stroke-width="1.08">
<line x1="305.4" y1="263.08" x2="309.79999999999995" y2="263.08"/>
<line x1="305.4" y1="232.42" x2="309.79999999999995" y2="232.42"/>
<line x1="305.4" y1="201.76" x2="309.79999999999995" y2="201.76"/>
<line x1="305.4" y1="171.11" x2="309.79999999999995" y2="171.11"/>
<line x1="305.4" y1="140.45" x2="309.79999999999995" y2="140.45"/>
<line x1="305.4" y1="109.80" x2="309.79999999999995" y2="109.80"/>
<line x1="305.4" y1="79.14" x2="309.79999999999995" y2="79.14"/>
<line x1="305.4" y1="48.48" x2="309.79999999999995" y2="48.48"/>
<line x1="305.4" y1="17.83" x2="309.79999999999995" y2="17.83"/>
</g>
<g font-family="Liberation Sans, Arial, Helvetica, sans-serif" font-size="10.3" fill="#000" stroke="#000" stroke-width="0.4">
<text x="313.79999999999995" y="266.66">0.0</text>
<text x="313.79999999999995" y="236.01">0.1</text>
<text x="313.79999999999995" y="205.35">0.2</text>
<text x="313.79999999999995" y="174.70">0.3</text>
<text x="313.79999999999995" y="144.04">0.4</text>
<text x="313.79999999999995" y="113.38">0.5</text>
<text x="313.79999999999995" y="82.73">0.6</text>
<text x="313.79999999999995" y="52.07">0.7</text>
<text x="313.79999999999995" y="21.41">0.8</text>
</g>
<g font-family="Liberation Sans, Arial, Helvetica, sans-serif" font-size="11.7" fill="#000" stroke="#000" stroke-width="0.2">
<text x="139.22" y="305.4">b</text>
<text x="146.12" y="307.5" font-size="8.4">1</text>
<text x="152.72" y="305.4">=</text>
<text x="162.32" y="305.4">0.7</text>
</g>
</g>
<g transform="translate(0,350.8)">
<g stroke="#000" stroke-width="1.08" stroke-dasharray="2.7,2.3" fill="none">
<line x1="58.70" y1="178.03" x2="147.59" y2="139.55" />
<line x1="225.14" y1="186.35" x2="147.59" y2="139.55" />
<line x1="148.20" y1="40.15" x2="147.59" y2="139.55" />
</g>
<g stroke="#000" stroke-width="1.05" stroke-linejoin="round">
<polygon points="148.91,123.24 154.82,122.42 147.73,117.20 141.82,117.91" fill="#B3E6C2"/>
<polygon points="142.90,123.87 148.91,123.24 141.82,117.91 135.81,118.43" fill="#AFE4C1"/>
<polygon points="156.15,128.82 162.06,127.88 154.82,122.42 148.91,123.24" fill="#BBE9C5"/>
<polygon points="136.78,124.28 142.90,123.87 135.81,118.43 129.70,118.72" fill="#A7E1BF"/>
<polygon points="150.14,129.59 156.15,128.82 148.91,123.24 142.90,123.87" fill="#B3E6C2"/>
<polygon points="163.54,134.70 169.45,133.62 162.06,127.88 156.15,128.82" fill="#BFEAC6"/>
<polygon points="130.55,124.42 136.78,124.28 129.70,118.72 123.46,118.73" fill="#9ADCBB"/>
<polygon points="144.02,130.13 150.14,129.59 142.90,123.87 136.78,124.28" fill="#A7E1BF"/>
<polygon points="157.53,135.61 163.54,134.70 156.15,128.82 150.14,129.59" fill="#BBE9C5"/>
<polygon points="171.08,140.92 176.99,139.68 169.45,133.62 163.54,134.70" fill="#C2ECC7"/>
<polygon points="124.19,124.22 130.55,124.42 123.46,118.73 117.10,118.41" fill="#90D9B9"/>
<polygon points="137.79,130.42 144.02,130.13 136.78,124.28 130.55,124.42" fill="#A3E0BE"/>
<polygon points="151.41,136.32 157.53,135.61 150.14,129.59 144.02,130.13" fill="#B3E6C2"/>
<polygon points="165.07,142.00 171.08,140.92 163.54,134.70 157.53,135.61" fill="#BFEAC6"/>
<polygon points="178.77,147.52 184.67,146.09 176.99,139.68 171.08,140.92" fill="#C9EECA"/>
<polygon points="117.69,123.62 124.19,124.22 117.10,118.41 110.60,117.66" fill="#86D6B7"/>
<polygon points="131.43,130.37 137.79,130.42 130.55,124.42 124.19,124.22" fill="#95DBBA"/>
<polygon points="145.18,136.77 151.41,136.32 144.02,130.13 137.79,130.42" fill="#A7E1BF"/>
<polygon points="158.96,142.89 165.07,142.00 157.53,135.61 151.41,136.32" fill="#BBE9C5"/>
<polygon points="172.76,148.80 178.77,147.52 171.08,140.92 165.07,142.00" fill="#C2ECC7"/>
<polygon points="186.60,154.57 192.51,152.92 184.67,146.09 178.77,147.52" fill="#CDF0CB"/>
<polygon points="111.05,122.50 117.69,123.62 110.60,117.66 103.95,116.39" fill="#6ECEB4"/>
<polygon points="124.95,129.93 131.43,130.37 124.19,124.22 117.69,123.62" fill="#90D9B9"/>
<polygon points="138.84,136.91 145.18,136.77 137.79,130.42 131.43,130.37" fill="#A3E0BE"/>
<polygon points="152.74,143.54 158.96,142.89 151.41,136.32 145.18,136.77" fill="#AFE4C1"/>
<polygon points="166.65,149.91 172.76,148.80 165.07,142.00 158.96,142.89" fill="#BFEAC6"/>
<polygon points="180.60,156.09 186.60,154.57 178.77,147.52 172.76,148.80" fill="#CDF0CB"/>
<polygon points="194.58,162.16 200.49,160.25 192.51,152.92 186.60,154.57" fill="#D6F3CF"/>
<polygon points="132.36,136.65 138.84,136.91 131.43,130.37 124.95,129.93" fill="#95DBBA"/>
<polygon points="118.31,128.98 124.95,129.93 117.69,123.62 111.05,122.50" fill="#80D4B7"/>
<polygon points="146.40,143.89 152.74,143.54 145.18,136.77 138.84,136.91" fill="#A7E1BF"/>
<polygon points="104.24,120.73 111.05,122.50 103.95,116.39 97.12,114.47" fill="#59C8B2"/>
<polygon points="160.44,150.79 166.65,149.91 158.96,142.89 152.74,143.54" fill="#BBE9C5"/>
<polygon points="174.50,157.46 180.60,156.09 172.76,148.80 166.65,149.91" fill="#C9EECA"/>
<polygon points="188.58,163.97 194.58,162.16 186.60,154.57 180.60,156.09" fill="#D3F2CD"/>
<polygon points="202.69,170.40 208.60,168.17 200.49,160.25 194.58,162.16" fill="#DEF7D2"/>
<polygon points="139.93,143.86 146.40,143.89 138.84,136.91 132.36,136.65" fill="#9ADCBB"/>
<polygon points="154.11,151.39 160.44,150.79 152.74,143.54 146.40,143.89" fill="#AFE4C1"/>
<polygon points="125.74,135.91 132.36,136.65 124.95,129.93 118.31,128.98" fill="#86D6B7"/>
<polygon points="168.29,158.62 174.50,157.46 166.65,149.91 160.44,150.79" fill="#C2ECC7"/>
<polygon points="111.52,127.40 118.31,128.98 111.05,122.50 104.24,120.73" fill="#68CCB3"/>
<polygon points="182.48,165.65 188.58,163.97 180.60,156.09 174.50,157.46" fill="#CDF0CB"/>
<polygon points="196.69,172.56 202.69,170.40 194.58,162.16 188.58,163.97" fill="#D9F4D0"/>
<polygon points="97.23,118.12 104.24,120.73 97.12,114.47 90.10,111.70" fill="#33C0B0"/>
<polygon points="210.91,179.44 216.82,176.81 208.60,168.17 202.69,170.40" fill="#E6F9D5"/>
<polygon points="161.97,159.53 168.29,158.62 160.44,150.79 154.11,151.39" fill="#BBE9C5"/>
<polygon points="147.66,151.65 154.11,151.39 146.40,143.89 139.93,143.86" fill="#A7E1BF"/>
<polygon points="176.28,167.16 182.48,165.65 174.50,157.46 168.29,158.62" fill="#C9EECA"/>
<polygon points="133.33,143.37 139.93,143.86 132.36,136.65 125.74,135.91" fill="#90D9B9"/>
<polygon points="190.59,174.63 196.69,172.56 188.58,163.97 182.48,165.65" fill="#D9F4D0"/>
<polygon points="204.90,182.04 210.91,179.44 202.69,170.40 196.69,172.56" fill="#E6F9D5"/>
<polygon points="219.21,189.49 225.14,186.35 216.82,176.81 210.91,179.44" fill="#F0FDD9"/>
<polygon points="118.96,134.55 125.74,135.91 118.31,128.98 111.52,127.40" fill="#6ECEB4"/>
<polygon points="104.53,124.99 111.52,127.40 104.24,120.73 97.23,118.12" fill="#3FC2B1"/>
<polygon points="90.00,114.44 97.23,118.12 90.10,111.70 82.84,107.84" fill="#00B3AE"/>
<polygon points="213.19,192.67 219.21,189.49 210.91,179.44 204.90,182.04" fill="#F0FDD9"/>
<polygon points="198.80,184.61 204.90,182.04 196.69,172.56 190.59,174.63" fill="#E1F8D3"/>
<polygon points="184.39,176.58 190.59,174.63 182.48,165.65 176.28,167.16" fill="#D6F3CF"/>
<polygon points="169.97,168.46 176.28,167.16 168.29,158.62 161.97,159.53" fill="#C2ECC7"/>
<polygon points="155.53,160.13 161.97,159.53 154.11,151.39 147.66,151.65" fill="#B3E6C2"/>
<polygon points="141.07,151.46 147.66,151.65 139.93,143.86 133.33,143.37" fill="#9ADCBB"/>
<polygon points="126.57,142.28 133.33,143.37 125.74,135.91 118.96,134.55" fill="#80D4B7"/>
<polygon points="112.00,132.38 118.96,134.55 111.52,127.40 104.53,124.99" fill="#59C8B2"/>
<polygon points="97.33,121.52 104.53,124.99 97.23,118.12 90.00,114.44" fill="#00BAAF"/>
<polygon points="207.07,195.88 213.19,192.67 204.90,182.04 198.80,184.61" fill="#EDFCD8"/>
<polygon points="192.60,187.12 198.80,184.61 190.59,174.63 184.39,176.58" fill="#E1F8D3"/>
<polygon points="178.09,178.36 184.39,176.58 176.28,167.16 169.97,168.46" fill="#D3F2CD"/>
<polygon points="82.50,109.31 90.00,114.44 82.84,107.84 75.31,102.53" fill="#00A7AE"/>
<polygon points="163.55,169.48 169.97,168.46 161.97,159.53 155.53,160.13" fill="#BFEAC6"/>
<polygon points="148.96,160.32 155.53,160.13 147.66,151.65 141.07,151.46" fill="#A7E1BF"/>
<polygon points="134.34,150.70 141.07,151.46 133.33,143.37 126.57,142.28" fill="#90D9B9"/>
<polygon points="119.64,140.41 126.57,142.28 118.96,134.55 112.00,132.38" fill="#68CCB3"/>
<polygon points="200.86,199.14 207.07,195.88 198.80,184.61 192.60,187.12" fill="#EDFCD8"/>
<polygon points="104.83,129.17 112.00,132.38 104.53,124.99 97.33,121.52" fill="#23BEB0"/>
<polygon points="186.30,189.54 192.60,187.12 184.39,176.58 178.09,178.36" fill="#DEF7D2"/>
<polygon points="171.68,179.94 178.09,178.36 169.97,168.46 163.55,169.48" fill="#CDF0CB"/>
<polygon points="157.00,170.16 163.55,169.48 155.53,160.13 148.96,160.32" fill="#BBE9C5"/>
<polygon points="89.87,116.62 97.33,121.52 90.00,114.44 82.50,109.31" fill="#00ACAE"/>
<polygon points="142.26,159.99 148.96,160.32 141.07,151.46 134.34,150.70" fill="#9ADCBB"/>
<polygon points="127.44,149.21 134.34,150.70 126.57,142.28 119.64,140.41" fill="#75D0B5"/>
<polygon points="194.55,202.43 200.86,199.14 192.60,187.12 186.30,189.54" fill="#EDFCD8"/>
<polygon points="74.66,102.22 82.50,109.31 75.31,102.53 67.42,95.25" fill="#0095AF"/>
<polygon points="179.89,191.86 186.30,189.54 178.09,178.36 171.68,179.94" fill="#D9F4D0"/>
<polygon points="112.51,137.53 119.64,140.41 112.00,132.38 104.83,129.17" fill="#3FC2B1"/>
<polygon points="165.15,181.25 171.68,179.94 163.55,169.48 157.00,170.16" fill="#C9EECA"/>
<polygon points="150.32,170.37 157.00,170.16 148.96,160.32 142.26,159.99" fill="#AFE4C1"/>
<polygon points="97.41,124.56 104.83,129.17 97.33,121.52 89.87,116.62" fill="#00B1AE"/>
<polygon points="188.14,205.75 194.55,202.43 186.30,189.54 179.89,191.86" fill="#E9FAD6"/>
<polygon points="135.39,158.98 142.26,159.99 134.34,150.70 127.44,149.21" fill="#90D9B9"/>
<polygon points="173.38,194.02 179.89,191.86 171.68,179.94 165.15,181.25" fill="#D6F3CF"/>
<polygon points="82.08,109.78 89.87,116.62 82.50,109.31 74.66,102.22" fill="#009BAF"/>
<polygon points="120.35,146.75 127.44,149.21 119.64,140.41 112.51,137.53" fill="#59C8B2"/>
<polygon points="158.49,182.20 165.15,181.25 157.00,170.16 150.32,170.37" fill="#BFEAC6"/>
<polygon points="105.14,133.28 112.51,137.53 104.83,129.17 97.41,124.56" fill="#00B8AF"/>
<polygon points="181.62,209.11 188.14,205.75 179.89,191.86 173.38,194.02" fill="#E9FAD6"/>
<polygon points="143.49,169.99 150.32,170.37 142.26,159.99 135.39,158.98" fill="#A3E0BE"/>
<polygon points="66.38,92.37 74.66,102.22 67.42,95.25 59.08,85.20" fill="#007BB2"/>
<polygon points="166.75,195.96 173.38,194.02 165.15,181.25 158.49,182.20" fill="#D3F2CD"/>
<polygon points="128.35,157.06 135.39,158.98 127.44,149.21 120.35,146.75" fill="#75D0B5"/>
<polygon points="89.68,118.04 97.41,124.56 89.87,116.62 82.08,109.78" fill="#00A2AE"/>
<polygon points="151.71,182.66 158.49,182.20 150.32,170.37 143.49,169.99" fill="#B3E6C2"/>
<polygon points="175.00,212.49 181.62,209.11 173.38,194.02 166.75,195.96" fill="#E9FAD6"/>
<polygon points="113.04,142.98 120.35,146.75 112.51,137.53 105.14,133.28" fill="#33C0B0"/>
<polygon points="136.50,168.80 143.49,169.99 135.39,158.98 128.35,157.06" fill="#90D9B9"/>
<polygon points="73.87,100.20 82.08,109.78 74.66,102.22 66.38,92.37" fill="#0085B2"/>
<polygon points="159.99,197.61 166.75,195.96 158.49,182.20 151.71,182.66" fill="#CDF0CB"/>
<polygon points="97.47,127.17 105.14,133.28 97.41,124.56 89.68,118.04" fill="#00AAAE"/>
<polygon points="168.27,215.88 175.00,212.49 166.75,195.96 159.99,197.61" fill="#E6F9D5"/>
<polygon points="121.10,153.92 128.35,157.06 120.35,146.75 113.04,142.98" fill="#59C8B2"/>
<polygon points="144.77,182.46 151.71,182.66 143.49,169.99 136.50,168.80" fill="#A7E1BF"/>
<polygon points="57.50,78.51 66.38,92.37 59.08,85.20 50.12,71.11" fill="#004E93"/>
<polygon points="81.55,108.82 89.68,118.04 82.08,109.78 73.87,100.20" fill="#008DB0"/>
<polygon points="105.45,137.41 113.04,142.98 105.14,133.28 97.47,127.17" fill="#00B1AE"/>
<polygon points="153.11,198.85 159.99,197.61 151.71,182.66 144.77,182.46" fill="#C2ECC7"/>
<polygon points="129.32,166.51 136.50,168.80 128.35,157.06 121.10,153.92" fill="#75D0B5"/>
<polygon points="161.42,219.27 168.27,215.88 159.99,197.61 153.11,198.85" fill="#E1F8D3"/>
<polygon points="137.67,181.37 144.77,182.46 136.50,168.80 129.32,166.51" fill="#9ADCBB"/>
<polygon points="89.43,118.43 97.47,127.17 89.68,118.04 81.55,108.82" fill="#0095AF"/>
<polygon points="113.60,149.09 121.10,153.92 113.04,142.98 105.45,137.41" fill="#00BAAF"/>
<polygon points="65.09,86.63 73.87,100.20 66.38,92.37 57.50,78.51" fill="#005A9D"/>
<polygon points="146.08,199.50 153.11,198.85 144.77,182.46 137.67,181.37" fill="#BFEAC6"/>
<polygon points="154.45,222.64 161.42,219.27 153.11,198.85 146.08,199.50" fill="#E1F8D3"/>
<polygon points="121.92,162.69 129.32,166.51 121.10,153.92 113.60,149.09" fill="#51C6B2"/>
<polygon points="97.51,129.30 105.45,137.41 97.47,127.17 89.43,118.43" fill="#00A0AE"/>
<polygon points="72.88,95.65 81.55,108.82 73.87,100.20 65.09,86.63" fill="#0063A3"/>
<polygon points="130.37,179.00 137.67,181.37 129.32,166.51 121.92,162.69" fill="#80D4B7"/>
<polygon points="147.37,225.94 154.45,222.64 146.08,199.50 138.89,199.32" fill="#D9F4D0"/>
<polygon points="138.89,199.32 146.08,199.50 137.67,181.37 130.37,179.00" fill="#AFE4C1"/>
<polygon points="105.78,141.84 113.60,149.09 105.45,137.41 97.51,129.30" fill="#00AAAE"/>
<polygon points="80.88,105.80 89.43,118.43 81.55,108.82 72.88,95.65" fill="#006FAB"/>
<polygon points="114.23,156.68 121.92,162.69 113.60,149.09 105.78,141.84" fill="#00B8AF"/>
<polygon points="140.15,229.14 147.37,225.94 138.89,199.32 131.50,197.88" fill="#D6F3CF"/>
<polygon points="122.82,174.79 130.37,179.00 121.92,162.69 114.23,156.68" fill="#59C8B2"/>
<polygon points="131.50,197.88 138.89,199.32 130.37,179.00 122.82,174.79" fill="#9ADCBB"/>
<polygon points="89.10,117.42 97.51,129.30 89.43,118.43 80.88,105.80" fill="#0085B2"/>
<polygon points="132.80,232.12 140.15,229.14 131.50,197.88 123.89,194.54" fill="#CDF0CB"/>
<polygon points="97.53,131.03 105.78,141.84 97.51,129.30 89.10,117.42" fill="#0090B0"/>
<polygon points="106.16,147.39 114.23,156.68 105.78,141.84 97.53,131.03" fill="#00A2AE"/>
<polygon points="123.89,194.54 131.50,197.88 122.82,174.79 114.97,167.80" fill="#80D4B7"/>
<polygon points="114.97,167.80 122.82,174.79 114.23,156.68 106.16,147.39" fill="#00BAAF"/>
</g>
<g stroke="#000" stroke-width="1.08" fill="none" stroke-linecap="round">
<line x1="132.83" y1="235.95" x2="225.14" y2="186.35" />
<line x1="132.83" y1="235.95" x2="58.70" y2="178.03" />
<line x1="132.83" y1="235.95" x2="131.84" y2="118.90" />
<line x1="225.14" y1="186.35" x2="234.09" y2="77.89" />
<line x1="58.70" y1="178.03" x2="50.12" y2="71.11" />
<line x1="131.84" y1="118.90" x2="234.09" y2="77.89" />
<line x1="131.84" y1="118.90" x2="50.12" y2="71.11" />
<line x1="148.20" y1="40.15" x2="234.09" y2="77.89" />
<line x1="148.20" y1="40.15" x2="50.12" y2="71.11" />
<line x1="149.13" y1="227.19" x2="151.95" y2="232.77" />
<line x1="166.54" y1="217.84" x2="169.32" y2="223.29" />
<line x1="183.24" y1="208.87" x2="185.98" y2="214.20" />
<line x1="199.28" y1="200.25" x2="201.99" y2="205.47" />
<line x1="214.70" y1="191.97" x2="217.37" y2="197.07" />
<line x1="115.65" y1="222.53" x2="112.33" y2="227.71" />
<line x1="98.61" y1="209.22" x2="95.38" y2="214.24" />
<line x1="82.55" y1="196.67" x2="79.41" y2="201.54" />
<line x1="67.39" y1="184.83" x2="64.33" y2="189.56" />
<line x1="56.52" y1="150.96" x2="50.95" y2="150.70" />
<line x1="54.19" y1="121.84" x2="48.46" y2="121.59" />
<line x1="51.72" y1="91.06" x2="45.83" y2="90.83" />
</g>
<g font-family="Liberation Sans, Arial, Helvetica, sans-serif" font-size="12.6" fill="#000" text-anchor="middle" stroke="#000" stroke-width="0.42">
<text x="153.98" y="242.87">0.5</text>
<text x="171.31" y="233.27">1.0</text>
<text x="187.93" y="224.05">1.5</text>
<text x="203.90" y="215.21">2.0</text>
<text x="219.25" y="206.70">2.5</text>
<text x="108.20" y="237.40">1</text>
<text x="91.34" y="223.77">2</text>
<text x="75.46" y="210.92">3</text>
<text x="60.46" y="198.80">4</text>
<text x="44.58" y="154.95">0.2</text>
<text x="41.94" y="125.86">0.4</text>
<text x="39.15" y="95.11">0.6</text>
</g>
<g font-family="Liberation Sans, Arial, Helvetica, sans-serif" font-size="11.7" fill="#000" text-anchor="middle" stroke="#000" stroke-width="0.35">
<text x="197.21" y="242.77">b<tspan font-size="8.2" dy="2.3">2</tspan></text>
<text x="75.74" y="235.42">b<tspan font-size="8.2" dy="2.3">3</tspan></text>
<text x="23.31" y="129.66">R</text>
</g>
<rect x="2.4" y="-0.1" width="280" height="279.5" fill="none" stroke="#000" stroke-width="1.08"/>
<rect x="288.2" y="-0.1" width="17.20" height="279.5" fill="url(#cb)"/>
<rect x="288.2" y="-0.1" width="17.20" height="279.5" fill="none" stroke="#000" stroke-width="1.08"/>
<g stroke="#000" stroke-width="1.08">
<line x1="305.4" y1="263.57" x2="309.79999999999995" y2="263.57"/>
<line x1="305.4" y1="229.52" x2="309.79999999999995" y2="229.52"/>
<line x1="305.4" y1="195.46" x2="309.79999999999995" y2="195.46"/>
<line x1="305.4" y1="161.40" x2="309.79999999999995" y2="161.40"/>
<line x1="305.4" y1="127.35" x2="309.79999999999995" y2="127.35"/>
<line x1="305.4" y1="93.29" x2="309.79999999999995" y2="93.29"/>
<line x1="305.4" y1="59.24" x2="309.79999999999995" y2="59.24"/>
<line x1="305.4" y1="25.18" x2="309.79999999999995" y2="25.18"/>
</g>
<g font-family="Liberation Sans, Arial, Helvetica, sans-serif" font-size="10.3" fill="#000" stroke="#000" stroke-width="0.4">
<text x="313.79999999999995" y="267.16">0.0</text>
<text x="313.79999999999995" y="233.10">0.1</text>
<text x="313.79999999999995" y="199.05">0.2</text>
<text x="313.79999999999995" y="164.99">0.3</text>
<text x="313.79999999999995" y="130.94">0.4</text>
<text x="313.79999999999995" y="96.88">0.5</text>
<text x="313.79999999999995" y="62.82">0.6</text>
<text x="313.79999999999995" y="28.77">0.7</text>
</g>
<g font-family="Liberation Sans, Arial, Helvetica, sans-serif" font-size="11.7" fill="#000" stroke="#000" stroke-width="0.2">
<text x="139.22" y="305.4">b</text>
<text x="146.12" y="307.5" font-size="8.4">1</text>
<text x="152.72" y="305.4">=</text>
<text x="162.32" y="305.4">1.5</text>
</g>
</g>
<g transform="translate(355.9,350.8)">
<g stroke="#000" stroke-width="1.08" stroke-dasharray="2.7,2.3" fill="none">
<line x1="58.70" y1="178.03" x2="147.59" y2="139.55" />
<line x1="225.14" y1="186.35" x2="147.59" y2="139.55" />
<line x1="148.20" y1="40.15" x2="147.59" y2="139.55" />
</g>
<g stroke="#000" stroke-width="1.05" stroke-linejoin="round">
<polygon points="149.00,110.61 154.97,110.22 147.81,104.13 141.83,104.37" fill="#80D4B7"/>
<polygon points="142.92,110.83 149.00,110.61 141.83,104.37 135.75,104.44" fill="#6ECEB4"/>
<polygon points="156.31,117.20 162.28,116.64 154.97,110.22 149.00,110.61" fill="#86D6B7"/>
<polygon points="136.73,110.85 142.92,110.83 135.75,104.44 129.55,104.30" fill="#68CCB3"/>
<polygon points="150.24,117.59 156.31,117.20 149.00,110.61 142.92,110.83" fill="#80D4B7"/>
<polygon points="163.76,124.17 169.72,123.43 162.28,116.64 156.31,117.20" fill="#95DBBA"/>
<polygon points="130.41,110.63 136.73,110.85 129.55,104.30 123.22,103.91" fill="#51C6B2"/>
<polygon points="144.05,117.79 150.24,117.59 142.92,110.83 136.73,110.85" fill="#6ECEB4"/>
<polygon points="157.69,124.76 163.76,124.17 156.31,117.20 150.24,117.59" fill="#90D9B9"/>
<polygon points="171.34,131.58 177.29,130.63 169.72,123.43 163.76,124.17" fill="#A3E0BE"/>
<polygon points="151.52,125.17 157.69,124.76 150.24,117.59 144.05,117.79" fill="#80D4B7"/>
<polygon points="137.75,117.77 144.05,117.79 136.73,110.85 130.41,110.63" fill="#68CCB3"/>
<polygon points="165.29,132.40 171.34,131.58 163.76,124.17 157.69,124.76" fill="#95DBBA"/>
<polygon points="123.97,110.14 130.41,110.63 123.22,103.91 116.77,103.23" fill="#33C0B0"/>
<polygon points="179.05,139.49 185.00,138.29 177.29,130.63 171.34,131.58" fill="#AFE4C1"/>
<polygon points="173.01,140.55 179.05,139.49 171.34,131.58 165.29,132.40" fill="#A7E1BF"/>
<polygon points="186.89,147.95 192.83,146.48 185.00,138.29 179.05,139.49" fill="#BBE9C5"/>
<polygon points="159.12,133.04 165.29,132.40 157.69,124.76 151.52,125.17" fill="#90D9B9"/>
<polygon points="145.23,125.37 151.52,125.17 144.05,117.79 137.75,117.77" fill="#75D0B5"/>
<polygon points="131.32,117.48 137.75,117.77 130.41,110.63 123.97,110.14" fill="#51C6B2"/>
<polygon points="117.39,109.32 123.97,110.14 116.77,103.23 110.17,102.23" fill="#00BAAF"/>
<polygon points="194.84,157.06 200.77,155.27 192.83,146.48 186.89,147.95" fill="#C2ECC7"/>
<polygon points="180.86,149.31 186.89,147.95 179.05,139.49 173.01,140.55" fill="#B3E6C2"/>
<polygon points="166.86,141.47 173.01,140.55 165.29,132.40 159.12,133.04" fill="#9ADCBB"/>
<polygon points="152.85,133.49 159.12,133.04 151.52,125.17 145.23,125.37" fill="#86D6B7"/>
<polygon points="138.81,125.31 145.23,125.37 137.75,117.77 131.32,117.48" fill="#68CCB3"/>
<polygon points="124.75,116.88 131.32,117.48 123.97,110.14 117.39,109.32" fill="#33C0B0"/>
<polygon points="110.65,108.12 117.39,109.32 110.17,102.23 103.42,100.83" fill="#00B3AE"/>
<polygon points="202.90,166.93 208.82,164.76 200.77,155.27 194.84,157.06" fill="#D3F2CD"/>
<polygon points="188.82,158.77 194.84,157.06 186.89,147.95 180.86,149.31" fill="#C2ECC7"/>
<polygon points="174.72,150.55 180.86,149.31 173.01,140.55 166.86,141.47" fill="#AFE4C1"/>
<polygon points="160.60,142.22 166.86,141.47 159.12,133.04 152.85,133.49" fill="#95DBBA"/>
<polygon points="146.45,133.71 152.85,133.49 145.23,125.37 138.81,125.31" fill="#75D0B5"/>
<polygon points="132.26,124.97 138.81,125.31 131.32,117.48 124.75,116.88" fill="#51C6B2"/>
<polygon points="118.04,115.92 124.75,116.88 117.39,109.32 110.65,108.12" fill="#00BAAF"/>
<polygon points="103.75,106.48 110.65,108.12 103.42,100.83 96.50,98.96" fill="#00ACAE"/>
<polygon points="211.03,177.68 216.95,175.07 208.82,164.76 202.90,166.93" fill="#DEF7D2"/>
<polygon points="196.88,169.04 202.90,166.93 194.84,157.06 188.82,158.77" fill="#D3F2CD"/>
<polygon points="182.69,160.38 188.82,158.77 180.86,149.31 174.72,150.55" fill="#BFEAC6"/>
<polygon points="168.47,151.64 174.72,150.55 166.86,141.47 160.60,142.22" fill="#A7E1BF"/>
<polygon points="154.22,142.75 160.60,142.22 152.85,133.49 146.45,133.71" fill="#90D9B9"/>
<polygon points="139.92,133.66 146.45,133.71 138.81,125.31 132.26,124.97" fill="#6ECEB4"/>
<polygon points="125.57,124.27 132.26,124.97 124.75,116.88 118.04,115.92" fill="#33C0B0"/>
<polygon points="219.21,189.49 225.14,186.35 216.95,175.07 211.03,177.68" fill="#EDFCD8"/>
<polygon points="111.16,114.52 118.04,115.92 110.65,108.12 103.75,106.48" fill="#00B3AE"/>
<polygon points="205.01,180.28 211.03,177.68 202.90,166.93 196.88,169.04" fill="#DEF7D2"/>
<polygon points="190.76,171.09 196.88,169.04 188.82,158.77 182.69,160.38" fill="#CDF0CB"/>
<polygon points="96.67,104.29 103.75,106.48 96.50,98.96 89.39,96.55" fill="#00A2AE"/>
<polygon points="176.46,161.87 182.69,160.38 174.72,150.55 168.47,151.64" fill="#BBE9C5"/>
<polygon points="162.11,152.55 168.47,151.64 160.60,142.22 154.22,142.75" fill="#9ADCBB"/>
<polygon points="147.71,143.04 154.22,142.75 146.45,133.71 139.92,133.66" fill="#80D4B7"/>
<polygon points="213.19,192.67 219.21,189.49 211.03,177.68 205.01,180.28" fill="#EDFCD8"/>
<polygon points="133.25,133.28 139.92,133.66 132.26,124.97 125.57,124.27" fill="#59C8B2"/>
<polygon points="198.90,182.86 205.01,180.28 196.88,169.04 190.76,171.09" fill="#DEF7D2"/>
<polygon points="118.73,123.17 125.57,124.27 118.04,115.92 111.16,114.52" fill="#00BAAF"/>
<polygon points="184.54,173.07 190.76,171.09 182.69,160.38 176.46,161.87" fill="#C9EECA"/>
<polygon points="104.11,112.60 111.16,114.52 103.75,106.48 96.67,104.29" fill="#00AAAE"/>
<polygon points="170.12,163.22 176.46,161.87 168.47,151.64 162.11,152.55" fill="#B3E6C2"/>
<polygon points="155.63,153.24 162.11,152.55 154.22,142.75 147.71,143.04" fill="#95DBBA"/>
<polygon points="89.39,101.46 96.67,104.29 89.39,96.55 82.08,93.47" fill="#0098AF"/>
<polygon points="207.07,195.89 213.19,192.67 205.01,180.28 198.90,182.86" fill="#EDFCD8"/>
<polygon points="141.07,143.04 147.71,143.04 139.92,133.66 133.25,133.28" fill="#6ECEB4"/>
<polygon points="192.69,185.41 198.90,182.86 190.76,171.09 184.54,173.07" fill="#D9F4D0"/>
<polygon points="126.43,132.52 133.25,133.28 125.57,124.27 118.73,123.17" fill="#3FC2B1"/>
<polygon points="178.21,174.95 184.54,173.07 176.46,161.87 170.12,163.22" fill="#C2ECC7"/>
<polygon points="111.71,121.56 118.73,123.17 111.16,114.52 104.11,112.60" fill="#00B3AE"/>
<polygon points="163.66,164.40 170.12,163.22 162.11,152.55 155.63,153.24" fill="#A7E1BF"/>
<polygon points="200.86,199.16 207.07,195.89 198.90,182.86 192.69,185.41" fill="#EDFCD8"/>
<polygon points="96.87,110.06 104.11,112.60 96.67,104.29 89.39,101.46" fill="#00A0AE"/>
<polygon points="149.02,153.68 155.63,153.24 147.71,143.04 141.07,143.04" fill="#90D9B9"/>
<polygon points="186.37,187.93 192.69,185.41 184.54,173.07 178.21,174.95" fill="#D6F3CF"/>
<polygon points="134.28,142.68 141.07,143.04 133.25,133.28 126.43,132.52" fill="#68CCB3"/>
<polygon points="81.89,97.84 89.39,101.46 82.08,93.47 74.54,89.59" fill="#008DB0"/>
<polygon points="171.77,176.71 178.21,174.95 170.12,163.22 163.66,164.40" fill="#BFEAC6"/>
<polygon points="119.45,131.29 126.43,132.52 118.73,123.17 111.71,121.56" fill="#00BAAF"/>
<polygon points="194.55,202.46 200.86,199.16 192.69,185.41 186.37,187.93" fill="#E9FAD6"/>
<polygon points="157.07,165.37 163.66,164.40 155.63,153.24 149.02,153.68" fill="#A3E0BE"/>
<polygon points="104.50,119.36 111.71,121.56 104.11,112.60 96.87,110.06" fill="#00AAAE"/>
<polygon points="179.95,190.40 186.37,187.93 178.21,174.95 171.77,176.71" fill="#D6F3CF"/>
<polygon points="142.26,153.80 149.02,153.68 141.07,143.04 134.28,142.68" fill="#80D4B7"/>
<polygon points="89.40,106.76 96.87,110.06 89.39,101.46 81.89,97.84" fill="#0095AF"/>
<polygon points="127.34,141.89 134.28,142.68 126.43,132.52 119.45,131.29" fill="#3FC2B1"/>
<polygon points="165.22,178.32 171.77,176.71 163.66,164.40 157.07,165.37" fill="#BBE9C5"/>
<polygon points="188.14,205.82 194.55,202.46 186.37,187.93 179.95,190.40" fill="#E9FAD6"/>
<polygon points="74.12,93.28 81.89,97.84 74.54,89.59 66.73,84.74" fill="#007BB2"/>
<polygon points="112.29,129.49 119.45,131.29 111.71,121.56 104.50,119.36" fill="#00B3AE"/>
<polygon points="150.36,166.08 157.07,165.37 149.02,153.68 142.26,153.80" fill="#9ADCBB"/>
<polygon points="173.42,192.80 179.95,190.40 171.77,176.71 165.22,178.32" fill="#D3F2CD"/>
<polygon points="135.36,153.55 142.26,153.80 134.28,142.68 127.34,141.89" fill="#6ECEB4"/>
<polygon points="97.08,116.44 104.50,119.36 96.87,110.06 89.40,106.76" fill="#00A0AE"/>
<polygon points="181.62,209.21 188.14,205.82 179.95,190.40 173.42,192.80" fill="#E9FAD6"/>
<polygon points="158.54,179.74 165.22,178.32 157.07,165.37 150.36,166.08" fill="#B3E6C2"/>
<polygon points="120.23,140.59 127.34,141.89 119.45,131.29 112.29,129.49" fill="#23BEB0"/>
<polygon points="81.69,102.53 89.40,106.76 81.89,97.84 74.12,93.28" fill="#0088B1"/>
<polygon points="143.50,166.47 150.36,166.08 142.26,153.80 135.36,153.55" fill="#90D9B9"/>
<polygon points="166.77,195.12 173.42,192.80 165.22,178.32 158.54,179.74" fill="#CDF0CB"/>
<polygon points="104.93,127.01 112.29,129.49 104.50,119.36 97.08,116.44" fill="#00AAAE"/>
<polygon points="66.05,87.53 74.12,93.28 66.73,84.74 58.61,78.68" fill="#0063A3"/>
<polygon points="174.99,212.64 181.62,209.21 173.42,192.80 166.77,195.12" fill="#E6F9D5"/>
<polygon points="128.30,152.84 135.36,153.55 127.34,141.89 120.23,140.59" fill="#59C8B2"/>
<polygon points="151.73,180.94 158.54,179.74 150.36,166.08 143.50,166.47" fill="#AFE4C1"/>
<polygon points="89.43,112.62 97.08,116.44 89.40,106.76 81.69,102.53" fill="#0090B0"/>
<polygon points="112.92,138.65 120.23,140.59 112.29,129.49 104.93,127.01" fill="#00B3AE"/>
<polygon points="160.00,197.31 166.77,195.12 158.54,179.74 151.73,180.94" fill="#C9EECA"/>
<polygon points="136.49,166.49 143.50,166.47 135.36,153.55 128.30,152.84" fill="#80D4B7"/>
<polygon points="168.26,216.11 174.99,212.64 166.77,195.12 160.00,197.31" fill="#E6F9D5"/>
<polygon points="73.68,97.16 81.69,102.53 74.12,93.28 66.05,87.53" fill="#006FAB"/>
<polygon points="97.33,123.69 104.93,127.01 97.08,116.44 89.43,112.62" fill="#009BAF"/>
<polygon points="144.77,181.85 151.73,180.94 143.50,166.47 136.49,166.49" fill="#A3E0BE"/>
<polygon points="121.06,151.56 128.30,152.84 120.23,140.59 112.92,138.65" fill="#33C0B0"/>
<polygon points="153.10,199.36 160.00,197.31 151.73,180.94 144.77,181.85" fill="#C2ECC7"/>
<polygon points="57.63,80.30 66.05,87.53 58.61,78.68 50.12,71.11" fill="#00468B"/>
<polygon points="161.41,219.62 168.26,216.11 160.00,197.31 153.10,199.36" fill="#E6F9D5"/>
<polygon points="81.49,107.70 89.43,112.62 81.69,102.53 73.68,97.16" fill="#007FB3"/>
<polygon points="129.32,166.02 136.49,166.49 128.30,152.84 121.06,151.56" fill="#6ECEB4"/>
<polygon points="105.40,135.93 112.92,138.65 104.93,127.01 97.33,123.69" fill="#00AAAE"/>
<polygon points="137.67,182.40 144.77,181.85 136.49,166.49 129.32,166.02" fill="#95DBBA"/>
<polygon points="65.34,90.35 73.68,97.16 66.05,87.53 57.63,80.30" fill="#005A9D"/>
<polygon points="113.62,149.58 121.06,151.56 112.92,138.65 105.40,135.93" fill="#00B8AF"/>
<polygon points="89.48,119.32 97.33,123.69 89.43,112.62 81.49,107.70" fill="#0090B0"/>
<polygon points="146.07,201.21 153.10,199.36 144.77,181.85 137.67,182.40" fill="#BFEAC6"/>
<polygon points="154.45,223.16 161.41,219.62 153.10,199.36 146.07,201.21" fill="#E1F8D3"/>
<polygon points="121.96,164.96 129.32,166.02 121.06,151.56 113.62,149.58" fill="#51C6B2"/>
<polygon points="97.63,132.23 105.40,135.93 97.33,123.69 89.48,119.32" fill="#00A0AE"/>
<polygon points="73.23,101.39 81.49,107.70 73.68,97.16 65.34,90.35" fill="#006BA8"/>
<polygon points="130.40,182.51 137.67,182.40 129.32,166.02 121.96,164.96" fill="#86D6B7"/>
<polygon points="147.36,226.73 154.45,223.16 146.07,201.21 138.89,202.81" fill="#DEF7D2"/>
<polygon points="138.89,202.81 146.07,201.21 137.67,182.40 130.40,182.51" fill="#B3E6C2"/>
<polygon points="105.94,146.72 113.62,149.58 105.40,135.93 97.63,132.23" fill="#00ACAE"/>
<polygon points="81.31,113.63 89.48,119.32 81.49,107.70 73.23,101.39" fill="#007BB2"/>
<polygon points="114.39,163.15 121.96,164.96 113.62,149.58 105.94,146.72" fill="#23BEB0"/>
<polygon points="140.15,230.31 147.36,226.73 138.89,202.81 131.56,204.08" fill="#DEF7D2"/>
<polygon points="122.95,182.04 130.40,182.51 121.96,164.96 114.39,163.15" fill="#75D0B5"/>
<polygon points="131.56,204.08 138.89,202.81 130.40,182.51 122.95,182.04" fill="#AFE4C1"/>
<polygon points="89.58,127.31 97.63,132.23 89.48,119.32 81.31,113.63" fill="#008DB0"/>
<polygon points="98.01,142.75 105.94,146.72 97.63,132.23 89.58,127.31" fill="#00A0AE"/>
<polygon points="132.82,233.90 140.15,230.31 131.56,204.08 124.06,204.92" fill="#D9F4D0"/>
<polygon points="106.59,160.39 114.39,163.15 105.94,146.72 98.01,142.75" fill="#00B3AE"/>
<polygon points="124.06,204.92 131.56,204.08 122.95,182.04 115.29,180.83" fill="#A3E0BE"/>
<polygon points="115.29,180.83 122.95,182.04 114.39,163.15 106.59,160.39" fill="#59C8B2"/>
</g>
<g stroke="#000" stroke-width="1.08" fill="none" stroke-linecap="round">
<line x1="132.83" y1="235.95" x2="225.14" y2="186.35" />
<line x1="132.83" y1="235.95" x2="58.70" y2="178.03" />
<line x1="132.83" y1="235.95" x2="131.84" y2="118.90" />
<line x1="225.14" y1="186.35" x2="234.09" y2="77.89" />
<line x1="58.70" y1="178.03" x2="50.12" y2="71.11" />
<line x1="131.84" y1="118.90" x2="234.09" y2="77.89" />
<line x1="131.84" y1="118.90" x2="50.12" y2="71.11" />
<line x1="148.20" y1="40.15" x2="234.09" y2="77.89" />
<line x1="148.20" y1="40.15" x2="50.12" y2="71.11" />
<line x1="149.13" y1="227.19" x2="151.95" y2="232.77" />
<line x1="166.54" y1="217.84" x2="169.32" y2="223.29" />
<line x1="183.24" y1="208.87" x2="185.98" y2="214.20" />
<line x1="199.28" y1="200.25" x2="201.99" y2="205.47" />
<line x1="214.70" y1="191.97" x2="217.37" y2="197.07" />
<line x1="115.65" y1="222.53" x2="112.33" y2="227.71" />
<line x1="98.61" y1="209.22" x2="95.38" y2="214.24" />
<line x1="82.55" y1="196.67" x2="79.41" y2="201.54" />
<line x1="67.39" y1="184.83" x2="64.33" y2="189.56" />
<line x1="57.41" y1="162.01" x2="51.89" y2="161.74" />
<line x1="56.02" y1="144.71" x2="50.42" y2="144.46" />
<line x1="54.59" y1="126.84" x2="48.89" y2="126.59" />
<line x1="53.11" y1="108.34" x2="47.31" y2="108.10" />
<line x1="51.57" y1="89.21" x2="45.67" y2="88.98" />
</g>
<g font-family="Liberation Sans, Arial, Helvetica, sans-serif" font-size="12.6" fill="#000" text-anchor="middle" stroke="#000" stroke-width="0.42">
<text x="153.98" y="242.87">0.5</text>
<text x="171.31" y="233.27">1.0</text>
<text x="187.93" y="224.05">1.5</text>
<text x="203.90" y="215.21">2.0</text>
<text x="219.25" y="206.70">2.5</text>
<text x="108.20" y="237.40">1</text>
<text x="91.34" y="223.77">2</text>
<text x="75.46" y="210.92">3</text>
<text x="60.46" y="198.80">4</text>
<text x="45.58" y="165.99">0.1</text>
<text x="44.02" y="148.71">0.2</text>
<text x="42.40" y="130.85">0.3</text>
<text x="40.72" y="112.38">0.4</text>
<text x="38.99" y="93.26">0.5</text>
</g>
<g font-family="Liberation Sans, Arial, Helvetica, sans-serif" font-size="11.7" fill="#000" text-anchor="middle" stroke="#000" stroke-width="0.35">
<text x="197.21" y="242.77">b<tspan font-size="8.2" dy="2.3">2</tspan></text>
<text x="75.74" y="235.42">b<tspan font-size="8.2" dy="2.3">3</tspan></text>
<text x="23.31" y="129.66">R</text>
</g>
<rect x="2.4" y="-0.1" width="280" height="279.5" fill="none" stroke="#000" stroke-width="1.08"/>
<rect x="288.2" y="-0.1" width="17.20" height="279.5" fill="url(#cb)"/>
<rect x="288.2" y="-0.1" width="17.20" height="279.5" fill="none" stroke="#000" stroke-width="1.08"/>
<g stroke="#000" stroke-width="1.08">
<line x1="305.4" y1="264.05" x2="309.79999999999995" y2="264.05"/>
<line x1="305.4" y1="222.29" x2="309.79999999999995" y2="222.29"/>
<line x1="305.4" y1="180.53" x2="309.79999999999995" y2="180.53"/>
<line x1="305.4" y1="138.77" x2="309.79999999999995" y2="138.77"/>
<line x1="305.4" y1="97.01" x2="309.79999999999995" y2="97.01"/>
<line x1="305.4" y1="55.25" x2="309.79999999999995" y2="55.25"/>
<line x1="305.4" y1="13.49" x2="309.79999999999995" y2="13.49"/>
</g>
<g font-family="Liberation Sans, Arial, Helvetica, sans-serif" font-size="10.3" fill="#000" stroke="#000" stroke-width="0.4">
<text x="313.79999999999995" y="267.64">0.0</text>
<text x="313.79999999999995" y="225.88">0.1</text>
<text x="313.79999999999995" y="184.12">0.2</text>
<text x="313.79999999999995" y="142.36">0.3</text>
<text x="313.79999999999995" y="100.60">0.4</text>
<text x="313.79999999999995" y="58.84">0.5</text>
<text x="313.79999999999995" y="17.08">0.6</text>
</g>
<g font-family="Liberation Sans, Arial, Helvetica, sans-serif" font-size="11.7" fill="#000" stroke="#000" stroke-width="0.2">
<text x="144.10" y="305.4">b</text>
<text x="151.00" y="307.5" font-size="8.4">1</text>
<text x="157.60" y="305.4">=</text>
<text x="167.20" y="305.4">3</text>
</g>
</g>
</svg></body></html>
